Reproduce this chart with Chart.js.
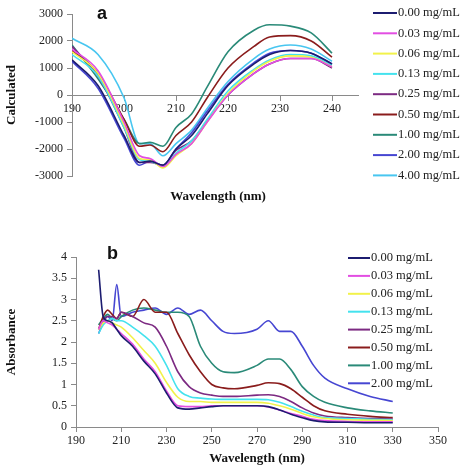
<!DOCTYPE html>
<html><head><meta charset="utf-8">
<script src="https://cdn.jsdelivr.net/npm/chart.js@4"></script>
<style>body{margin:0;background:#fff;width:474px;height:474px;overflow:hidden;position:relative}
#wa{position:absolute;left:0;top:0}#wb{position:absolute;left:0;top:236px}</style>
</head><body>
<div id="wa" style="width:474px;height:215px"><canvas id="ca"></canvas></div>
<div id="wb" style="width:474px;height:232px"><canvas id="cb"></canvas></div>
<script>
const labels = ["0.00 mg/mL","0.03 mg/mL","0.06 mg/mL","0.13 mg/mL","0.25 mg/mL","0.50 mg/mL","1.00 mg/mL","2.00 mg/mL","4.00 mg/mL"];
const colors = ["#1c1c70","#e24ee2","#f2f24a","#44e2ee","#7c2a82","#8a1c1c","#2a8a78","#4646d2","#48c6f0"];
const xA = [190,195,200,203,205,207.5,210,213,216,220,225,228,232,236,240];
const a000 = [1300,350,-1500,-2500,-2450,-2600,-2000,-1500,-700,350,1150,1500,1650,1550,1150];
const a003 = [1700,900,-1000,-2250,-2350,-2650,-2200,-1800,-1000,0,800,1150,1350,1350,1050];
const a006 = [1600,800,-1100,-2350,-2400,-2700,-2250,-1800,-1000,50,900,1250,1450,1400,1050];
const a013 = [1500,700,-1200,-2400,-2450,-2650,-2150,-1700,-900,150,950,1300,1500,1450,1100];
const a025 = [1800,700,-1200,-2500,-2500,-2600,-2050,-1700,-950,0,800,1150,1350,1350,1000];
const a050 = [1650,800,-900,-1900,-1850,-2100,-1500,-1000,-100,1000,1800,2150,2200,2000,1400];
const a100 = [1850,600,-900,-1800,-1750,-1900,-1200,-700,300,1600,2400,2600,2550,2300,1550];
const a200 = [1250,250,-1600,-2600,-2450,-2600,-2000,-1400,-600,400,1200,1550,1650,1550,1150];
const a400 = [2100,1500,-100,-1800,-1800,-2250,-1800,-1300,-500,500,1350,1700,1850,1700,1250];
const xB = [200,202,204,206,208,210,215,220,225,230,235,240,245,250,255,260,270,275,280,285,290,295,300,310,320,330];
const b000 = [3.7,2.6,2.5,2.45,2.3,2.15,1.9,1.55,1.25,0.8,0.45,0.42,0.45,0.48,0.5,0.5,0.5,0.48,0.4,0.3,0.22,0.15,0.12,0.11,0.1,0.1];
const b003 = [2.3,2.5,2.45,2.4,2.3,2.2,1.95,1.6,1.3,0.85,0.5,0.48,0.48,0.5,0.5,0.5,0.5,0.47,0.4,0.32,0.25,0.18,0.15,0.13,0.12,0.12];
const b006 = [2.3,2.45,2.5,2.45,2.4,2.35,2.1,1.8,1.5,1.05,0.7,0.6,0.6,0.58,0.58,0.58,0.58,0.56,0.5,0.42,0.32,0.24,0.2,0.17,0.16,0.15];
const b013 = [2.2,2.4,2.5,2.55,2.5,2.5,2.35,2.15,1.9,1.45,0.9,0.72,0.68,0.66,0.65,0.65,0.65,0.64,0.58,0.48,0.37,0.28,0.22,0.2,0.18,0.17];
const b025 = [2.3,2.5,2.6,2.6,2.55,2.7,2.6,2.45,2.35,1.9,1.3,0.95,0.8,0.75,0.72,0.72,0.75,0.76,0.72,0.6,0.45,0.33,0.26,0.22,0.2,0.19];
const b050 = [2.3,2.6,2.75,2.65,2.55,2.7,2.6,3.0,2.7,2.7,2.2,1.7,1.3,1.0,0.92,0.9,0.98,1.04,1.02,0.9,0.7,0.5,0.38,0.3,0.25,0.22];
const b100 = [2.4,2.55,2.65,2.55,2.5,2.6,2.75,2.8,2.75,2.7,2.7,2.6,1.9,1.5,1.3,1.28,1.45,1.6,1.6,1.35,0.95,0.72,0.58,0.45,0.38,0.33];
const b200 = [2.2,2.45,2.6,2.5,3.35,2.6,2.7,2.75,2.8,2.65,2.8,2.65,2.75,2.5,2.25,2.2,2.3,2.5,2.25,2.25,1.9,1.45,1.15,0.9,0.72,0.6];
const seriesA = [a000,a003,a006,a013,a025,a050,a100,a200,a400];
const seriesB = [b000,b003,b006,b013,b025,b050,b100,b200];

const SERIF = "'Liberation Serif', 'DejaVu Serif', serif";
const AX = '#8a8a8a';
function ds(xs, arr, i, w){ return {label:labels[i], data: xs.map((x,k)=>({x:x,y:arr[k]})), borderColor:colors[i], backgroundColor:colors[i], borderWidth:w, pointRadius:0, tension:0.4, cubicInterpolationMode:'monotone'}; }
function legendPlugin(x0, y0, dy, lineW){
  return {id:'lg', afterDraw(c){ const g=c.ctx; g.save(); g.font="12.5px "+SERIF; g.textBaseline='middle';
    c.data.datasets.forEach((d,i)=>{ const y=y0+i*dy; g.strokeStyle=d.borderColor; g.lineWidth=2; g.beginPath(); g.moveTo(x0,y); g.lineTo(x0+lineW,y); g.stroke(); g.fillStyle='#222'; g.fillText(d.label,x0+lineW+1,y); });
    g.restore(); }};
}
function textPlugin(items){ return {id:'tx', afterDraw(c){ const g=c.ctx; g.save(); items.forEach(t=>{ g.font=t.f; g.fillStyle='#111'; g.textAlign=t.a||'left'; g.textBaseline='middle'; g.fillText(t.s,t.x,t.y);}); g.restore(); }}; }
const tickFont = {family:SERIF, size:12};
const plain = v => String(v);

new Chart(document.getElementById('ca'), {
  type:'line',
  data:{datasets: seriesA.map((s,i)=>ds(xA,s,i,1.6))},
  options:{responsive:true, maintainAspectRatio:false, animation:false,
    layout:{padding:{left:0,right:116,top:14,bottom:39}},
    plugins:{legend:{display:false}, tooltip:{enabled:false}},
    scales:{
      x:{type:'linear', min:190, max:245, position:{y:0}, afterBuildTicks(a){a.ticks=[190,200,210,220,230,240].map(v=>({value:v}));},
         grid:{drawOnChartArea:false, drawTicks:true, tickLength:5, color:AX}, border:{color:AX},
         ticks:{color:'#222', font:tickFont, padding:2, callback:plain}},
      y:{min:-3000, max:3000, afterBuildTicks(a){a.ticks=[-3000,-2000,-1000,0,1000,2000,3000].map(v=>({value:v}));},
         afterFit(a){a.width=72;},
         grid:{drawOnChartArea:false, drawTicks:true, tickLength:5, color:AX}, border:{color:AX},
         ticks:{color:'#222', font:tickFont, padding:4, callback:plain},
         title:{display:true, text:'Calculated', color:'#111', font:{family:SERIF, size:13, weight:'bold'}, padding:4}}
    }},
  plugins:[legendPlugin(373,13,20.3,24), textPlugin([{s:'a',x:97,y:14,f:"bold 18px 'Liberation Sans', Arial, sans-serif"},{s:'Wavelength (nm)',x:218,y:197,a:'center',f:"bold 13px "+SERIF}])]
});

new Chart(document.getElementById('cb'), {
  type:'line',
  data:{datasets: seriesB.map((s,i)=>ds(xB,s,i,1.6))},
  options:{responsive:true, maintainAspectRatio:false, animation:false,
    layout:{padding:{left:0,right:36,top:21,bottom:2}},
    plugins:{legend:{display:false}, tooltip:{enabled:false}},
    scales:{
      x:{type:'linear', min:190, max:350, afterBuildTicks(a){const t=[];for(let v=190;v<=350;v+=20)t.push({value:v});a.ticks=t;},
         grid:{drawOnChartArea:false, drawTicks:true, tickLength:5, color:AX}, border:{color:AX},
         ticks:{color:'#222', font:tickFont, padding:2, callback:plain},
         title:{display:true, text:'Wavelength (nm)', color:'#111', font:{family:SERIF, size:13, weight:'bold'}, padding:{top:0,bottom:0}}},
      y:{min:0, max:4, afterBuildTicks(a){const t=[];for(let v=0;v<=4;v+=0.5)t.push({value:v});a.ticks=t;},
         afterFit(a){a.width=76;},
         grid:{drawOnChartArea:false, drawTicks:true, tickLength:5, color:AX}, border:{color:AX},
         ticks:{color:'#222', font:tickFont, padding:4, callback:plain},
         title:{display:true, text:'Absorbance', color:'#111', font:{family:SERIF, size:13, weight:'bold'}, padding:4}}
    }},
  plugins:[legendPlugin(348,22,17.9,22), textPlugin([{s:'b',x:107,y:18,f:"bold 18px 'Liberation Sans', Arial, sans-serif"}])]
});
</script>
</body></html>
